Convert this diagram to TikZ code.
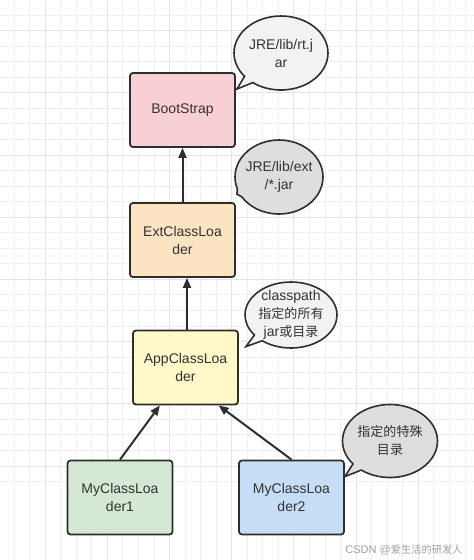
\documentclass[tikz,border=0pt]{standalone}
\usepackage{fontspec}
\setmainfont{Liberation Sans}
\newfontfamily\cjk[Scale=0.93]{Noto Sans CJK SC}
\usepackage{xcolor}
\usetikzlibrary{shapes,shapes.callouts,positioning,calc,arrows.meta}

\definecolor{inkgray}{HTML}{333333}
\definecolor{linegray}{HTML}{2E2E2E}
\definecolor{gridminor}{HTML}{F0F0F0}
\definecolor{gridmajor}{HTML}{E4E4E4}
\definecolor{bootfill}{HTML}{F8CFD4}
\definecolor{extfill}{HTML}{FCE3C2}
\definecolor{appfill}{HTML}{FFF8C8}
\definecolor{myonefill}{HTML}{D5E8D4}
\definecolor{mytwofill}{HTML}{C6DDF6}
\definecolor{lightbubble}{HTML}{F2F2F2}
\definecolor{darkbubble}{HTML}{DEDEDE}
\definecolor{markgray}{HTML}{A0A0A0}

\begin{document}
\begin{tikzpicture}[x=1pt, y=-1pt,
    font=\fontsize{14}{18}\selectfont, text=inkgray,
    loader/.style={draw=linegray, line width=1.8pt, rounded corners=3pt,
        minimum width=105pt, minimum height=74pt, align=center},
    bubble/.style={ellipse callout, draw=linegray, line width=1.6pt,
        align=center, inner sep=-10pt, callout pointer arc=14},
    link/.style={draw=linegray, line width=2pt,
        -{Triangle[length=10pt, width=8pt]}}]
    \useasboundingbox (0,0) rectangle (474,560);

    % Background grid
    \foreach \i in {0,...,31} {
        \pgfmathsetmacro{\gx}{-1.5+15.55*\i}
        \pgfmathsetmacro{\gy}{-0.5+15.55*\i}
        \pgfmathtruncatemacro{\mx}{mod(\i,4)}
        \ifnum\mx=3
            \draw[gridmajor, line width=1pt] (\gx,0) -- (\gx,560);
        \else
            \draw[gridminor, line width=1pt] (\gx,0) -- (\gx,560);
        \fi
        \ifnum\mx=2
            \draw[gridmajor, line width=1pt] (0,\gy) -- (474,\gy);
        \else
            \draw[gridminor, line width=1pt] (0,\gy) -- (474,\gy);
        \fi
    }

    % Class loaders
    \node[loader, fill=bootfill] (boot) at (182.5,110) {BootStrap};
    \node[loader, fill=extfill] (ext) at (182.5,240) {ExtClassLoa\\der};
    \node[loader, fill=appfill] (app) at (185.5,367.5) {AppClassLoa\\der};
    \node[loader, fill=myonefill] (myone) at (120,497.5) {MyClassLoa\\der1};
    \node[loader, fill=mytwofill] (mytwo) at (291.5,497.5) {MyClassLoa\\der2};

    % Speech bubbles
    \node[bubble, fill=lightbubble, minimum width=94pt, minimum height=74pt,
        callout absolute pointer={($(boot.north east)+(1,17)$)}]
        (bootnote) at (281,53) {JRE/lib/rt.j\\ar};
    \node[bubble, fill=darkbubble, minimum width=88pt, minimum height=74pt,
        callout absolute pointer={($(ext.north east)+(1,-8)$)}]
        (extnote) at (279,177) {JRE/lib/ext\\/*.jar};
    \node[bubble, fill=lightbubble, minimum width=92pt, minimum height=66pt,
        callout absolute pointer={($(app.north east)+(7,17)$)}]
        (appnote) at (291,315) {classpath\\{\cjk 指定的所有}\\jar{\cjk 或目录}};
    \node[bubble, fill=darkbubble, minimum width=95pt, minimum height=73pt,
        callout absolute pointer={($(mytwo.north east)+(0,17)$)}]
        (mynote) at (390,441) {{\cjk 指定的特殊}\\{\cjk 目录}};

    % Parent links
    \coordinate (apptop) at ($(app.north)+(1.5,0)$);
    \draw[link] (ext.north) -- (boot.south);
    \draw[link] (apptop) -- (apptop |- ext.south);
    \draw[link] (myone.north) -- ($(app.south west)!0.26!(app.south east)$);
    \draw[link] (mytwo.north) -- ($(app.south west)!0.81!(app.south east)$);

    % Watermark
    \node[anchor=east, font=\fontsize{11}{13}\selectfont, text=markgray]
        (mark) at (466,550) {CSDN @{\cjk 爱生活的研发人}};
\end{tikzpicture}
\end{document}
